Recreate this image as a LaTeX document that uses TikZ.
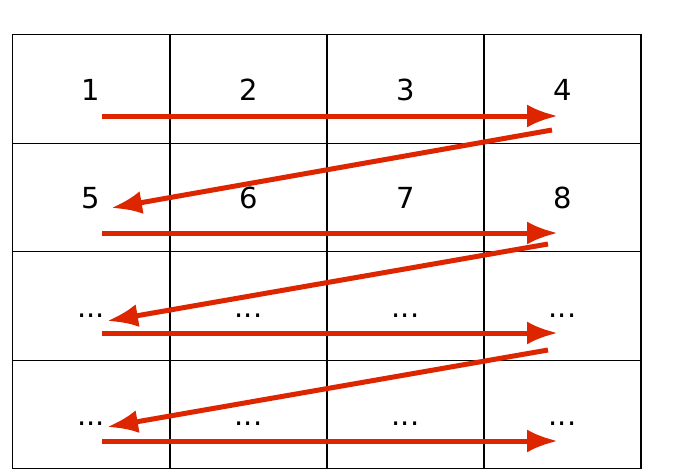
\documentclass[tikz,border=0pt]{standalone}
\usepackage{fontspec}
\setmainfont{DejaVu Sans}
\usetikzlibrary{arrows.meta}
\definecolor{arr}{RGB}{221,38,0}
\begin{document}
\begin{tikzpicture}[x=1pt,y=-1pt,
  cell/.style={draw=black,line width=1.4pt,minimum width=157pt,minimum height=108.5pt,inner sep=0pt,outer sep=0pt},
  lbl/.style={font=\fontsize{29}{30}\selectfont,anchor=base,inner sep=0pt},
  redarrow/.style={draw=arr,line width=5pt,-{Latex[length=31pt,width=23pt]}}]
\useasboundingbox (0,0) rectangle (674,471);
% cells
\foreach \r/\y in {1/89,2/197.5,3/306,4/414.5}{
  \foreach \c/\x in {1/91,2/248.5,3/405.5,4/562.5}{
    \node[cell] (c\r\c) at (\x,\y) {};
  }
}
% labels
\node[lbl] (l11) at ([yshift=-11pt]c11.center) {1};
\node[lbl] (l12) at ([yshift=-11pt]c12.center) {2};
\node[lbl] (l13) at ([yshift=-11pt]c13.center) {3};
\node[lbl] (l14) at ([yshift=-11pt]c14.center) {4};
\node[lbl] (l21) at ([yshift=-11pt]c21.center) {5};
\node[lbl] (l22) at ([yshift=-11pt]c22.center) {6};
\node[lbl] (l23) at ([yshift=-11pt]c23.center) {7};
\node[lbl] (l24) at ([yshift=-11pt]c24.center) {8};
\node[lbl] (l31) at ([yshift=-11pt]c31.center) {...};
\node[lbl] (l32) at ([yshift=-11pt]c32.center) {...};
\node[lbl] (l33) at ([yshift=-11pt]c33.center) {...};
\node[lbl] (l34) at ([yshift=-11pt]c34.center) {...};
\node[lbl] (l41) at ([yshift=-11pt]c41.center) {...};
\node[lbl] (l42) at ([yshift=-11pt]c42.center) {...};
\node[lbl] (l43) at ([yshift=-11pt]c43.center) {...};
\node[lbl] (l44) at ([yshift=-11pt]c44.center) {...};
% arrow end points
\coordinate (h1s) at (102,116);  \coordinate (h1e) at (558,116);
\coordinate (d1s) at (552,130);  \coordinate (d1e) at (111,208);
\coordinate (h2s) at (102,233);  \coordinate (h2e) at (558,233);
\coordinate (d2s) at (548,244);  \coordinate (d2e) at (107,321);
\coordinate (h3s) at (102,333);  \coordinate (h3e) at (558,333);
\coordinate (d3s) at (548,350);  \coordinate (d3e) at (107,427);
\coordinate (h4s) at (102,441);  \coordinate (h4e) at (558,441);
% arrows
\draw[redarrow] (h1s) -- (h1e);
\draw[redarrow] (d1s) -- (d1e);
\draw[redarrow] (h2s) -- (h2e);
\draw[redarrow] (d2s) -- (d2e);
\draw[redarrow] (h3s) -- (h3e);
\draw[redarrow] (d3s) -- (d3e);
\draw[redarrow] (h4s) -- (h4e);
\end{tikzpicture}
\end{document}
